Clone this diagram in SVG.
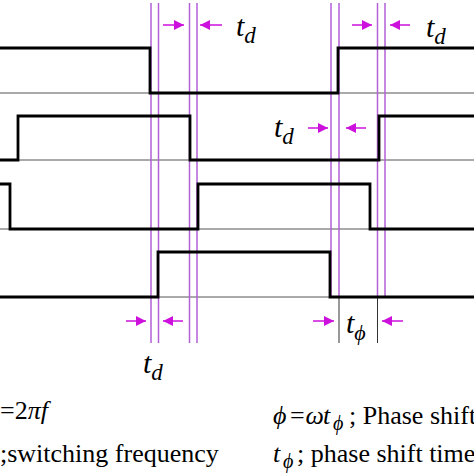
<svg xmlns="http://www.w3.org/2000/svg" width="474" height="474" viewBox="0 0 474 474">
<defs>
<marker id="ah" markerUnits="userSpaceOnUse" markerWidth="10" markerHeight="10" viewBox="0 0 10 10" refX="10" refY="5" orient="auto">
<path d="M0,0 L10,5 L0,10 z" fill="#cc11dd"/>
</marker>
<style>
.base{stroke:#555;stroke-width:1;fill:none}
.trace{stroke:#000;stroke-width:2.8;fill:none;stroke-linejoin:miter}
.guide{stroke:#b35fd6;stroke-width:1.5;fill:none}
.tick{stroke:#333;stroke-width:1;fill:none}
.arr{stroke:#cc11dd;stroke-width:1.5;marker-end:url(#ah)}
.lbl{font-family:"Liberation Serif","Times New Roman","DejaVu Serif",serif;font-style:italic;fill:#000}
.txt{font-family:"Liberation Serif","Times New Roman","DejaVu Serif",serif;font-size:26px;fill:#000}
.it{font-style:italic}
</style>
</defs>
<rect width="474" height="474" fill="#fff"/>
<g id="baselines">
<line class="base" x1="0" y1="93" x2="474" y2="93"/>
<line class="base" x1="0" y1="160" x2="474" y2="160"/>
<line class="base" x1="0" y1="229" x2="474" y2="229"/>
<line class="base" x1="0" y1="297" x2="474" y2="297"/>
</g>
<g id="guides">
<line class="guide" x1="151" y1="3" x2="151" y2="343"/>
<line class="guide" x1="158.5" y1="3" x2="158.5" y2="343"/>
<line class="guide" x1="189.5" y1="3" x2="189.5" y2="343"/>
<line class="guide" x1="197" y1="3" x2="197" y2="343"/>
<line class="guide" x1="331" y1="3" x2="331" y2="297"/>
<line class="guide" x1="339" y1="3" x2="339" y2="297"/>
<line class="guide" x1="377.5" y1="3" x2="377.5" y2="297"/>
<line class="guide" x1="385" y1="3" x2="385" y2="297"/>
<line class="tick" x1="339" y1="297" x2="339" y2="343"/>
<line class="tick" x1="377.5" y1="297" x2="377.5" y2="343"/>
</g>
<g id="trace1"><polyline class="trace" points="0,48 150,48 150,93 338,93 338,48 474,48"/></g>
<g id="trace2"><polyline class="trace" points="0,160 18,160 18,116 190,116 190,160 379,160 379,116 474,116"/></g>
<g id="trace3"><polyline class="trace" points="0,184 10,184 10,229 198,229 198,184 370,184 370,229 474,229"/></g>
<g id="trace4"><polyline class="trace" points="0,297 158,297 158,252 330,252 330,297 474,297"/></g>
<g id="connectors">
<line class="arr" x1="163" y1="25" x2="184" y2="25"/>
<line class="arr" x1="222" y1="25" x2="200" y2="25"/>
<line class="arr" x1="352" y1="25" x2="372" y2="25"/>
<line class="arr" x1="410" y1="25" x2="390" y2="25"/>
<line class="arr" x1="308" y1="128" x2="328" y2="128"/>
<line class="arr" x1="366" y1="128" x2="346" y2="128"/>
<line class="arr" x1="126" y1="321" x2="146" y2="321"/>
<line class="arr" x1="183" y1="321" x2="163" y2="321"/>
<line class="arr" x1="313" y1="321" x2="334" y2="321"/>
<line class="arr" x1="403" y1="321" x2="382" y2="321"/>
</g>
<g id="labels">
<text class="lbl" x="236" y="36" font-size="30">t<tspan font-size="23" dy="7">d</tspan></text>
<text class="lbl" x="426" y="37" font-size="30">t<tspan font-size="23" dy="7">d</tspan></text>
<text class="lbl" x="274" y="137" font-size="30">t<tspan font-size="23" dy="7">d</tspan></text>
<text class="lbl" x="143" y="373" font-size="30">t<tspan font-size="23" dy="7">d</tspan></text>
<text class="lbl" x="346" y="333" font-size="30">t<tspan font-size="22" dy="7">ϕ</tspan></text>
</g>
<g id="notes">
<text class="txt" x="0" y="419" font-family="'Liberation Serif', serif" font-size="25.5">=2<tspan class="it">πf</tspan></text>
<text class="txt" x="0" y="462" font-family="'Liberation Serif', serif" font-size="25.5">;switching frequency</text>
<text class="txt" y="424"><tspan class="it" x="273">ϕ</tspan><tspan x="290">=</tspan><tspan class="it" x="305.5">ω</tspan><tspan class="it" x="323">t</tspan><tspan class="it" font-size="20" x="333" dy="6">ϕ</tspan><tspan x="349" dy="-6">; Phase shift</tspan></text>
<text class="txt" y="462"><tspan class="it" x="273">t</tspan><tspan class="it" font-size="20" x="283" dy="6">ϕ</tspan><tspan x="297" dy="-6">; phase shift time</tspan></text>
</g>
</svg>
